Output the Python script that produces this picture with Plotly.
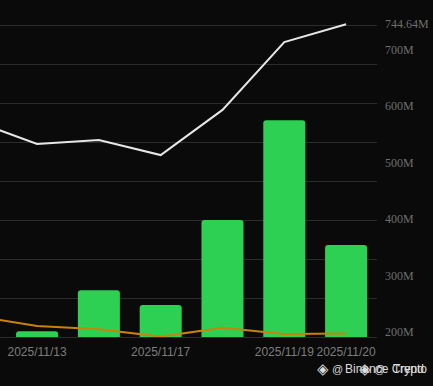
import plotly.graph_objects as go

categories = ["2025/11/12", "2025/11/13", "2025/11/15", "2025/11/17", "2025/11/18", "2025/11/19", "2025/11/20"]
tick_labels = ["2025/11/13", "2025/11/17", "2025/11/19", "2025/11/20"]
bar_values = [None, 0.15, 1.2, 0.82, 3.0, 5.56, 2.36]
orange_values = [0.54, 0.28, 0.2, 0.01, 0.24, 0.08, 0.09]
white_values = [573, 532.6, 539.7, 513, 593, 713, 744.64]
right_ticks = [200, 300, 400, 500, 600, 700, 744.64]
right_labels = ["200M", "300M", "400M", "500M", "600M", "700M", "744.64M"]

BG = "#0a0a0a"
fig = go.Figure()
fig.add_bar(x=categories, y=bar_values, marker=dict(color="#2dd052", cornerradius=3, line_width=0), width=0.68)
fig.add_scatter(x=categories, y=orange_values, mode="lines", line=dict(color="#c9820e", width=2))
fig.add_scatter(x=categories, y=white_values, mode="lines", line=dict(color="#e6e6e6", width=2), yaxis="y2")


def mark(text, px, size, family="Liberation Sans"):
    return dict(text=text, xref="paper", yref="paper", x=px / 377, y=-(369 - 337) / 327,
                xanchor="left", yanchor="middle", showarrow=False,
                font=dict(family=family, size=size, color="#dcdcdc"))


fig.update_layout(
    width=433, height=386, autosize=False, showlegend=False,
    paper_bgcolor=BG, plot_bgcolor=BG,
    margin=dict(l=0, r=56, t=10, b=49),
    xaxis=dict(type="category", categoryorder="array", categoryarray=categories,
               range=[0.4, 6.5], tickmode="array", tickvals=tick_labels, ticktext=tick_labels,
               showgrid=False, zeroline=False, showline=False, ticks="", ticklabelstandoff=6,
               tickfont=dict(family="Liberation Sans", size=12, color="#7d7d7d")),
    yaxis=dict(range=[0, 8.385], dtick=1, gridcolor="#2c2c2c", gridwidth=1,
               zeroline=True, zerolinecolor="#2c2c2c", zerolinewidth=1,
               showticklabels=False, ticks=""),
    yaxis2=dict(overlaying="y", side="right", range=[191, 769.8], tickmode="array",
                tickvals=right_ticks, ticktext=right_labels, showgrid=False, zeroline=False,
                ticks="", ticklabelstandoff=7,
                tickfont=dict(family="Liberation Serif", size=12, color="#6e6e6e")),
    annotations=[
        mark("◈", 315, 15, family="DejaVu Sans"),
        mark("@", 330, 11),
        mark("Binance Crypto", 343, 12),
        mark("◈", 357, 15, family="DejaVu Sans"),
        mark("@", 372, 11),
        mark("Trend", 391, 12),
    ],
)
fig.write_html("out.html", config={"displayModeBar": False},
               post_script=f"document.body.style.margin='0';document.body.style.background='{BG}';")
